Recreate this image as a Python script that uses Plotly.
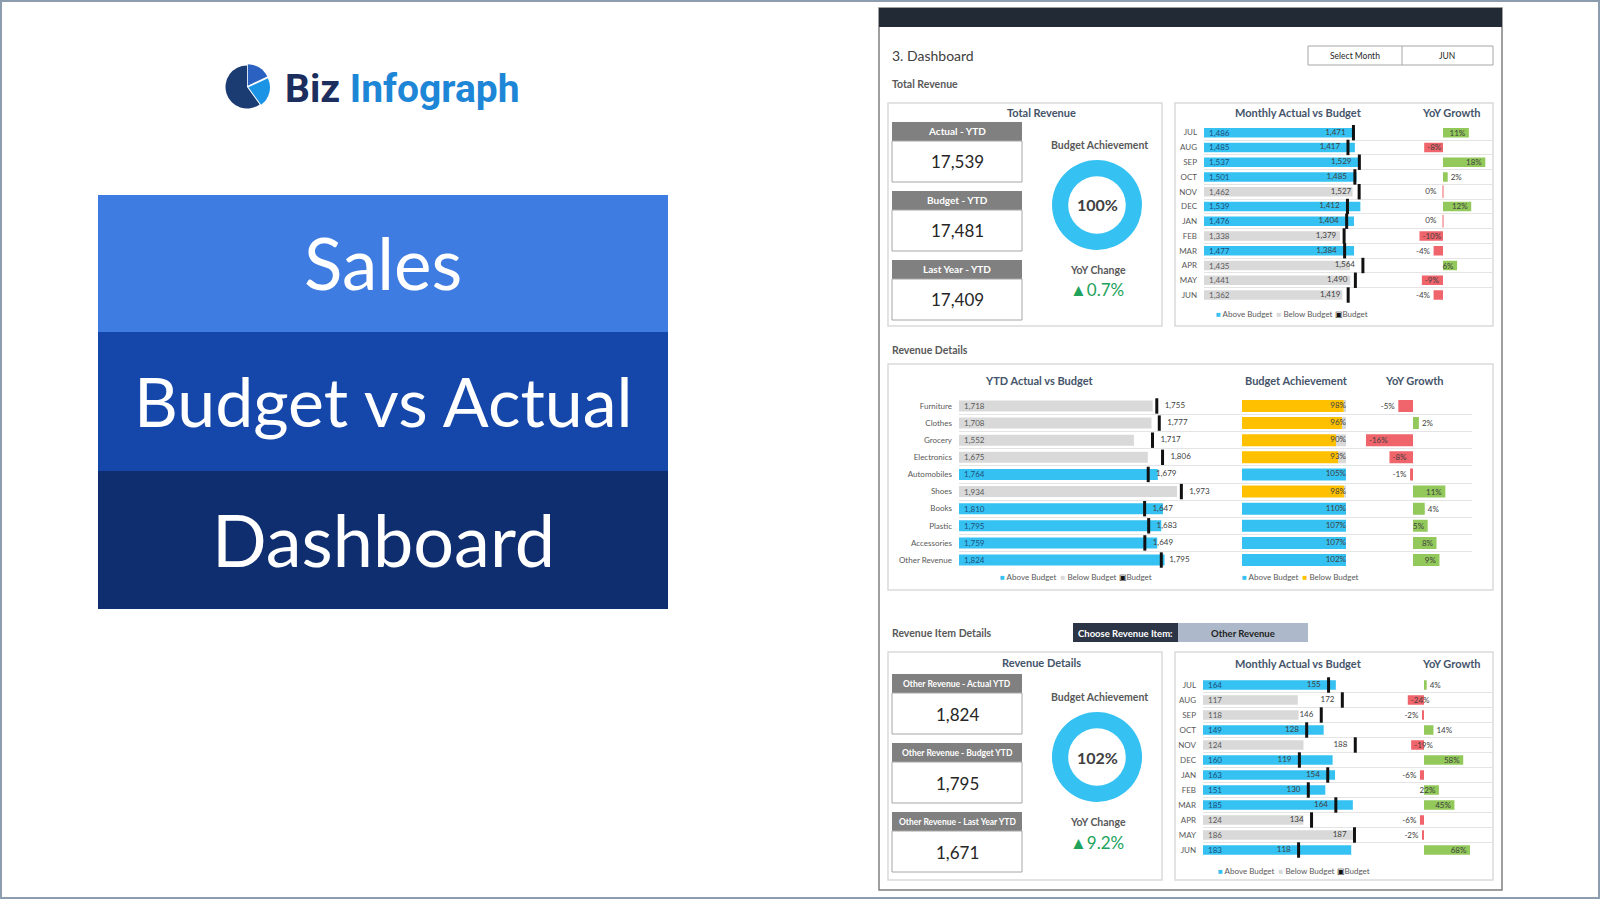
import plotly.graph_objects as go

W, H = 1600, 900
FONT = "Lato, Carlito, 'Liberation Sans', sans-serif"

# ---------------- data ----------------
months = ["JUL", "AUG", "SEP", "OCT", "NOV", "DEC", "JAN", "FEB", "MAR", "APR", "MAY", "JUN"]
total_actual = [1486, 1485, 1537, 1501, 1462, 1539, 1476, 1338, 1477, 1435, 1441, 1362]
total_budget = [1471, 1417, 1529, 1485, 1527, 1412, 1404, 1379, 1384, 1564, 1490, 1419]
total_yoy = [11, -8, 18, 2, 0, 12, 0, -10, -4, 6, -9, -4]
total_last_year_ytd = 17409

items = ["Furniture", "Clothes", "Grocery", "Electronics", "Automobiles", "Shoes",
         "Books", "Plastic", "Accessories", "Other Revenue"]
item_actual = [1718, 1708, 1552, 1675, 1764, 1934, 1810, 1795, 1759, 1824]
item_budget = [1755, 1777, 1717, 1806, 1679, 1973, 1647, 1683, 1649, 1795]
item_yoy = [-5, 2, -16, -8, -1, 11, 4, 5, 8, 9]

selected_item = "Other Revenue"
other_actual = [164, 117, 118, 149, 124, 160, 163, 151, 185, 124, 186, 183]
other_budget = [155, 172, 146, 128, 188, 119, 154, 130, 164, 134, 187, 118]
other_yoy = [4, -24, -2, 14, -19, 58, -6, 22, 45, -6, -2, 68]
other_last_year_ytd = 1671

selected_month = "JUN"
logo_slices = [18, 22, 60]

# ---------------- style ----------------
BLUE = "#35C2F2"
GRAY = "#D9D9D9"
AMBER = "#FFC000"
GREEN = "#92C95A"
RED = "#F0646C"
TITLE_C = "#44546A"
TXT = "#595959"


def X(px):
    return px / W


def Y(py):
    return 1 - py / H


def xd(a, b):
    return [a / W, b / W]


def yd(top, bottom):
    return [1 - bottom / H, 1 - top / H]


shapes = []
annotations = []


def rect(x0, y0, x1, y1, fill=None, line=None, lw=1.0, layer="below"):
    shapes.append(dict(type="rect", xref="paper", yref="paper",
                       x0=X(x0), x1=X(x1), y0=Y(y1), y1=Y(y0),
                       fillcolor=fill if fill else "rgba(0,0,0,0)",
                       line=dict(color=line if line else "rgba(0,0,0,0)", width=lw if line else 0),
                       layer=layer))


def vline(x, y0, y1, color, lw=1.0):
    shapes.append(dict(type="line", xref="paper", yref="paper", x0=X(x), x1=X(x),
                       y0=Y(y0), y1=Y(y1), line=dict(color=color, width=lw), layer="below"))


def text(x, y, s, size, color, bold=False, xanchor="center", family=FONT):
    annotations.append(dict(xref="paper", yref="paper", x=X(x), y=Y(y),
                            text=f"<b>{s}</b>" if bold else s, showarrow=False,
                            xanchor=xanchor, yanchor="middle",
                            font=dict(size=size, color=color, family=family)))


fig = go.Figure()

# ---------------- left side: logo + title block ----------------
fig.add_trace(go.Pie(values=logo_slices, sort=False, direction="clockwise", rotation=0,
                     marker=dict(colors=["#2B62C2", "#1C94E6", "#1B3B73"], line=dict(width=0)),
                     pull=[0.07, 0.07, 0], textinfo="none", hoverinfo="skip", showlegend=False,
                     domain=dict(x=xd(224, 270), y=yd(64, 110))))
annotations.append(dict(xref="paper", yref="paper", x=X(283), y=Y(89), xanchor="left", yanchor="middle",
                        showarrow=False,
                        text="<span style='color:#1B2E5E'><b>Biz</b></span> <span style='color:#1E86D6'><b>Infograph</b></span>",
                        font=dict(size=39, family="Roboto, sans-serif")))

rect(98, 195, 668, 332, fill="#3E7CE2")
rect(98, 332, 668, 471, fill="#1447A9")
rect(98, 471, 668, 609, fill="#0F2E70")
text(383, 262, "Sales", 71, "white")
text(383, 400, "Budget vs Actual", 68, "white")
text(383, 539, "Dashboard", 72, "white")

# outer thin image frame
rect(1, 1, 1599, 898, line="#8C9EAE", lw=2)

# ---------------- dashboard frame ----------------
rect(879, 8, 1502, 890, fill="white", line="#808080", lw=1.5)
rect(879, 8, 1502, 27, fill="#222A35")
text(890, 56, "3. Dashboard", 14, "#404040", xanchor="left")
rect(1308, 46, 1493, 65, fill="white", line="#A6A6A6", lw=1)
vline(1402, 46, 65, "#A6A6A6")
text(1355, 56, "Select Month", 8.5, "#262626")
text(1447, 56, selected_month, 8.5, "#262626")

text(890, 84, "Total Revenue", 10.5, TXT, bold=True, xanchor="left")
text(890, 350, "Revenue Details", 10.5, TXT, bold=True, xanchor="left")
text(890, 633, "Revenue Item Details", 10.5, TXT, bold=True, xanchor="left")

rect(1073, 623, 1178, 642, fill="#2C3546")
rect(1178, 623, 1308, 642, fill="#ADB9CA")
text(1125, 633, "Choose Revenue Item:", 9.5, "white", bold=True)
text(1243, 633, selected_item, 9.5, "#1F1F1F", bold=True)

# panels
PANEL_LINE = "#DADADA"
rect(888, 103, 1162, 326, fill="white", line=PANEL_LINE, lw=1.5)
rect(1175, 103, 1493, 326, fill="white", line=PANEL_LINE, lw=1.5)
rect(888, 364, 1493, 590, fill="white", line=PANEL_LINE, lw=1.5)
rect(888, 652, 1162, 880, fill="white", line=PANEL_LINE, lw=1.5)
rect(1175, 652, 1493, 880, fill="white", line=PANEL_LINE, lw=1.5)


# ---------------- KPI panels ----------------
def kpi_panel(title, title_y, base, headers, values, last_year, hsize):
    actual, budget = values
    vals = [actual, budget, last_year]
    text(1041, title_y, title, 11, TITLE_C, bold=True)
    for i, (hdr, v) in enumerate(zip(headers, vals)):
        top = base + i * 69
        rect(892, top, 1022, top + 19, fill="#808080")
        rect(892, top + 19, 1022, top + 60, fill="white", line="#A6A6A6", lw=1)
        text(957, top + 9.5, hdr, hsize, "white", bold=True)
        text(957, top + 40, f"{v:,}", 17, "#262626")
    ach = actual / budget
    filled = min(ach, 1.0)
    cy = base + 83
    fig.add_trace(go.Pie(values=[filled, 1 - filled], sort=False, hole=0.64,
                         marker=dict(colors=[BLUE, "#E0E0E0"], line=dict(width=0)),
                         textinfo="none", hoverinfo="skip", showlegend=False,
                         domain=dict(x=xd(1052, 1142), y=yd(cy - 45, cy + 45))))
    text(1097, cy, f"{ach * 100:.0f}%", 16, "#404040", bold=True)
    text(1099, base + 23, "Budget Achievement", 10.5, TXT, bold=True)
    text(1098, base + 148, "YoY Change", 10.5, TXT, bold=True)
    chg = (actual / last_year - 1) * 100
    arrow = "▲" if chg >= 0 else "▼"
    col = "#21A35B" if chg >= 0 else "#E0474C"
    text(1097, base + 168, f"{arrow}{abs(chg):.1f}%", 17, col)


kpi_panel("Total Revenue", 113, 122,
          ["Actual - YTD", "Budget - YTD", "Last Year - YTD"],
          (sum(total_actual), sum(total_budget)), total_last_year_ytd, 10)
kpi_panel("Revenue Details", 662, 674,
          [f"{selected_item} - Actual YTD", f"{selected_item} - Budget YTD", f"{selected_item} - Last Year YTD"],
          (sum(other_actual), sum(other_budget)), other_last_year_ytd, 8.5)


# ---------------- bar charts ----------------
def label_colors(actual, budget):
    return ["#1F4E79" if a >= b else "#595959" for a, b in zip(actual, budget)]


def actual_vs_budget(cats, actual, budget, xa, ya, width, budget_side):
    cols = [BLUE if a >= b else GRAY for a, b in zip(actual, budget)]
    fig.add_trace(go.Bar(x=actual, y=cats, orientation="h", xaxis=xa, yaxis=ya,
                         marker=dict(color=cols, line=dict(width=0)), width=width,
                         text=[f" {v:,}" for v in actual], textposition="inside", insidetextanchor="start",
                         textfont=dict(family=FONT, size=8, color=label_colors(actual, budget)),
                         cliponaxis=False, hoverinfo="skip", showlegend=False))
    fig.add_trace(go.Scatter(x=budget, y=cats, mode="markers+text", xaxis=xa, yaxis=ya,
                             marker=dict(symbol="line-ns", size=11, line=dict(width=3, color="#111111")),
                             text=[f"{v:,}" for v in budget], textposition=f"middle {budget_side}",
                             textfont=dict(family=FONT, size=8, color="#404040"),
                             cliponaxis=False, hoverinfo="skip", showlegend=False))


def yoy_bars(cats, yoy, xa, ya, width):
    fig.add_trace(go.Bar(x=yoy, y=cats, orientation="h", xaxis=xa, yaxis=ya,
                         marker=dict(color=[GREEN if v >= 0 else RED for v in yoy], line=dict(width=0)),
                         width=width, text=[f"{v}%" if v != 0 else "" for v in yoy], textposition="auto",
                         insidetextfont=dict(family=FONT, size=8, color="#404040"),
                         outsidetextfont=dict(family=FONT, size=8, color="#404040"),
                         textfont=dict(family=FONT, size=8, color="#404040"),
                         cliponaxis=False, hoverinfo="skip", showlegend=False))
    zero_cats = [c for c, v in zip(cats, yoy) if v == 0]
    if zero_cats:
        fig.add_trace(go.Scatter(x=[0] * len(zero_cats), y=zero_cats, mode="markers+text", xaxis=xa, yaxis=ya,
                                 marker=dict(symbol="line-ns", size=9, line=dict(width=1, color=RED)),
                                 text=["0%"] * len(zero_cats), textposition="middle left",
                                 textfont=dict(family=FONT, size=8, color="#404040"),
                                 cliponaxis=False, hoverinfo="skip", showlegend=False))


# panel 2 : total monthly
actual_vs_budget(months, total_actual, total_budget, "x", "y", 0.64, "left")
yoy_bars(months, total_yoy, "x2", "y", 0.64)
text(1298, 113, "Monthly Actual vs Budget", 11, TITLE_C, bold=True)
text(1451, 113, "YoY Growth", 11, TITLE_C, bold=True)

# panel 3 : items
actual_vs_budget(items, item_actual, item_budget, "x3", "y2", 0.64, "right")
ach_pct = [a / b * 100 for a, b in zip(item_actual, item_budget)]
capped = [min(p, 100) for p in ach_pct]
fig.add_trace(go.Bar(x=capped, y=items, orientation="h", xaxis="x4", yaxis="y2", width=0.7,
                     marker=dict(color=[BLUE if p >= 100 else AMBER for p in ach_pct], line=dict(width=0)),
                     hoverinfo="skip", showlegend=False))
fig.add_trace(go.Bar(x=[100 - c for c in capped], base=capped, y=items, orientation="h", xaxis="x4", yaxis="y2",
                     width=0.7, marker=dict(color=GRAY, line=dict(width=0)), hoverinfo="skip", showlegend=False))
fig.add_trace(go.Scatter(x=[100] * len(items), y=items, mode="text", xaxis="x4", yaxis="y2",
                         text=[f"{p:.0f}%" for p in ach_pct], textposition="middle left",
                         textfont=dict(family=FONT, size=8, color="#404040"),
                         cliponaxis=False, hoverinfo="skip", showlegend=False))
yoy_bars(items, item_yoy, "x5", "y2", 0.7)
text(1039, 380, "YTD Actual vs Budget", 11, TITLE_C, bold=True)
text(1296, 380, "Budget Achievement", 11, TITLE_C, bold=True)
text(1414, 380, "YoY Growth", 11, TITLE_C, bold=True)

# panel 5 : selected item monthly
actual_vs_budget(months, other_actual, other_budget, "x6", "y3", 0.62, "left")
yoy_bars(months, other_yoy, "x7", "y3", 0.62)
text(1298, 663, "Monthly Actual vs Budget", 11, TITLE_C, bold=True)
text(1451, 663, "YoY Growth", 11, TITLE_C, bold=True)

# legends
LEG3 = (f"<span style='color:{BLUE}'>■</span> Above Budget  <span style='color:{GRAY}'>■</span> Below Budget "
        "<span style='color:#111'>▣</span>Budget")
LEG2 = f"<span style='color:{BLUE}'>■</span> Above Budget  <span style='color:{AMBER}'>■</span> Below Budget"
text(1292, 314, LEG3, 8, TXT)
text(1076, 577, LEG3, 8, TXT)
text(1300, 577, LEG2, 8, TXT)
text(1294, 871, LEG3, 8, TXT)


def cat_axis(domain, cats, anchor):
    n = len(cats)
    return dict(domain=domain, type="category", categoryorder="array", categoryarray=cats,
                range=[n - 0.5, -0.5], anchor=anchor, tickson="boundaries", showgrid=True,
                gridcolor="#E4E4E4", gridwidth=1, ticks="", ticklabelstandoff=6,
                tickfont=dict(family=FONT, size=8, color=TXT), showline=False, zeroline=False,
                fixedrange=True)


def val_axis(domain, rng, anchor):
    return dict(domain=domain, range=rng, anchor=anchor, visible=False, fixedrange=True)


layout = dict(
    width=W, height=H, margin=dict(l=0, r=0, t=0, b=0),
    paper_bgcolor="white", plot_bgcolor="rgba(0,0,0,0)",
    barmode="overlay", showlegend=False, font=dict(family=FONT),
    uniformtext=dict(minsize=8, mode="show"),
    shapes=shapes, annotations=annotations,
    # panel 2
    xaxis=val_axis(xd(1204, 1405), [0, 201 / 0.1016], "y"),
    xaxis2=val_axis(xd(1405, 1492), [-(1443 - 1405) / 2.35, (1492 - 1443) / 2.35], "y"),
    yaxis=cat_axis(yd(125.3, 302.4), months, "x"),
    # panel 3
    xaxis3=val_axis(xd(959, 1242), [0, 283 / 0.1127], "y2"),
    xaxis4=val_axis(xd(1242, 1360), [0, 100 * 118 / 104], "y2"),
    xaxis5=val_axis(xd(1360, 1472), [-(1413 - 1360) / 2.94, (1472 - 1413) / 2.94], "y2"),
    yaxis2=cat_axis(yd(397.4, 568.6), items, "x3"),
    # panel 5
    xaxis6=val_axis(xd(1203, 1400), [0, 197 / 0.81], "y3"),
    xaxis7=val_axis(xd(1400, 1492), [-(1424 - 1400) / 0.676, (1492 - 1424) / 0.676], "y3"),
    yaxis3=cat_axis(yd(677.5, 857.5), months, "x6"),
)
fig.update_layout(**layout)

fig.write_html("out.html", config={"displayModeBar": False},
               post_script="document.body.style.margin='0px';document.body.style.overflow='hidden';")
